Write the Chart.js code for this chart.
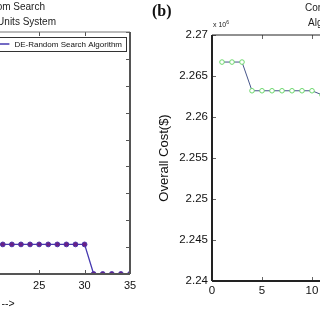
<!DOCTYPE html>
<html><head><meta charset="utf-8">
<script src="https://cdn.jsdelivr.net/npm/chart.js@4/dist/chart.umd.min.js"></script>
<style>
html,body{margin:0;padding:0;background:#fff;}
#wrap{position:relative;width:320px;height:320px;overflow:hidden;background:#fff;font-family:"Liberation Sans",Arial,sans-serif;}
canvas{position:absolute;top:0;}
#cA{left:-260px;}
#cB{left:150px;}
.t{position:absolute;white-space:nowrap;color:#222;font-size:10px;line-height:12px;}
.tr{text-align:right;}
#pb{position:absolute;left:152px;top:2px;font:bold 16px/18px "Liberation Serif","Times New Roman",serif;color:#111;}
#sc{position:absolute;left:213px;top:21px;font-size:7px;line-height:8px;color:#222;white-space:nowrap;}
#sc sup{font-size:5px;vertical-align:3px;line-height:0;}
</style></head><body>
<div id="wrap">
<canvas id="cA" width="410" height="320"></canvas>
<canvas id="cB" width="432" height="320"></canvas>
<div class="t tr" style="right:275px;top:1px">Convergence of DE-Random Search</div>
<div class="t tr" style="right:264px;top:16px">Algorithm for 40 Units System</div>
<div class="t" style="left:305px;top:2px">Convergence of DE-Random Search</div>
<div class="t" style="left:308px;top:17px">Algorithm for 40 Units System</div>
<div id="pb">(b)</div>
<div id="sc">x 10<sup>6</sup></div>
</div>
<script>
// ---- data: panel (a) ----
const iterA = [1,2,3,4,5,6,7,8,9,10,11,12,13,14,15,16,17,18,19,20,21,22,23,24,25,26,27,28,29,30,31,32,33,34,35];
const costA = [1.1,1.1,1.1,1.1,1.1,1.1,1.1,1.1,1.1,1.1,1.1,1.1,1.1,1.1,1.1,1.1,1.1,1.1,1.1,1.1,1.1,1.1,1.1,1.1,1.1,1.1,1.1,1.1,1.1,1.1,0,0,0,0,0];
const xTicksA = [0,5,10,15,20,25,30,35];
const seriesA = 'DE-Random Search Algorithm';
// ---- data: panel (b) ----
const iterB = [1,2,3,4,5,6,7,8,9,10,11];
const costB = [2.2667,2.2667,2.2667,2.2632,2.2632,2.2632,2.2632,2.2632,2.2632,2.2632,2.2627];
const xTicksB = [0,5,10,15,20,25,30,35];
const yTicksB = [2.24,2.245,2.25,2.255,2.26,2.265,2.27];

Chart.defaults.font.family = '"Liberation Sans", Arial, sans-serif';
Chart.defaults.color = '#111';

const frameTicks = {
  id: 'frameTicks',
  afterDatasetsDraw(chart, args, o) {
    const {ctx, chartArea: a, scales: {x, y}} = chart;
    ctx.save();
    ctx.strokeStyle = o.tickColor; ctx.lineWidth = 1;
    const L = 4;
    const seg = (x1,y1,x2,y2)=>{ctx.beginPath();ctx.moveTo(x1,y1);ctx.lineTo(x2,y2);ctx.stroke();};
    x.ticks.forEach(t => { const p = Math.round(x.getPixelForValue(t.value)) + 0.5;
      seg(p, a.bottom, p, a.bottom - L); seg(p, a.top, p, a.top + L); });
    y.ticks.forEach(t => { const p = Math.round(y.getPixelForValue(t.value)) + 0.5;
      seg(a.left, p, a.left + L, p); seg(a.right, p, a.right - L, p); });
    o.sides.forEach(s => {
      ctx.strokeStyle = s.color; ctx.lineWidth = s.w;
      if (s.side === 'top') seg(a.left, a.top, a.right, a.top);
      if (s.side === 'bottom') seg(a.left, a.bottom, a.right, a.bottom);
      if (s.side === 'left') seg(a.left, a.top, a.left, a.bottom);
      if (s.side === 'right') seg(a.right, a.top, a.right, a.bottom);
    });
    ctx.restore();
  }
};

const legendBox = {
  id: 'legendBox',
  afterDraw(chart, args, o) {
    if (!o.show) return;
    const {ctx, chartArea: a} = chart; const ds = chart.data.datasets[0];
    ctx.save();
    ctx.font = o.font;
    const tw = ctx.measureText(ds.label).width;
    const right = a.right - 4, top = a.top + 5, h = 14;
    const tx = right - 4 - tw, lx2 = tx - 5, lx1 = lx2 - 26, left = lx1 - 5;
    const cy = top + h / 2;
    ctx.fillStyle = '#fff'; ctx.fillRect(left, top, right - left, h);
    ctx.strokeStyle = '#333'; ctx.lineWidth = 1; ctx.strokeRect(left + 0.5, top + 0.5, right - left, h);
    ctx.strokeStyle = ds.borderColor; ctx.lineWidth = 1.5;
    ctx.beginPath(); ctx.moveTo(lx1, cy); ctx.lineTo(lx2, cy); ctx.stroke();
    ctx.fillStyle = ds.pointBackgroundColor;
    ctx.beginPath(); ctx.arc((lx1 + lx2) / 2, cy, 2.5, 0, Math.PI * 2); ctx.fill();
    ctx.fillStyle = '#111'; ctx.textBaseline = 'middle'; ctx.textAlign = 'left';
    ctx.fillText(ds.label, tx, cy + 0.5);
    ctx.restore();
  }
};

new Chart(document.getElementById('cA'), {
  type: 'line',
  data: { datasets: [{
    label: seriesA,
    data: iterA.map((v, i) => ({x: v, y: costA[i]})),
    borderColor: '#4539b0', borderWidth: 1.3,
    pointRadius: 2.4, pointBackgroundColor: '#6a1f86', pointBorderColor: '#4a34a8', pointBorderWidth: 1,
    tension: 0
  }]},
  plugins: [frameTicks, legendBox],
  options: {
    responsive: false, animation: false, devicePixelRatio: 1,
    layout: { padding: { top: 32, right: 20, left: 0, bottom: 0 } },
    plugins: {
      legend: { display: false }, tooltip: { enabled: false },
      frameTicks: { tickColor: '#555', sides: [
        {side:'top', color:'#777', w:1}, {side:'left', color:'#555', w:2},
        {side:'right', color:'#555', w:2}, {side:'bottom', color:'#555', w:2}] },
      legendBox: { show: true, font: '8px "Liberation Sans", Arial, sans-serif' }
    },
    scales: {
      x: { type: 'linear', min: 0, max: 35,
        afterBuildTicks: s => { s.ticks = xTicksA.map(v => ({value: v})); },
        afterFit: s => { s.height = 46; },
        grid: { display: false, drawTicks: false }, border: { display: false },
        ticks: { padding: 5, font: { size: 11 }, color: '#111', maxRotation: 0 },
        title: { display: true, text: 'No of Iterations -->', font: { size: 10.5 }, color: '#111', padding: { top: 0, bottom: 10 } } },
      y: { type: 'linear', min: 0, max: 9,
        ticks: { display: false, stepSize: 1 },
        afterFit: s => { s.width = 72; },
        grid: { display: false, drawTicks: false }, border: { display: false } }
    }
  }
});

new Chart(document.getElementById('cB'), {
  type: 'line',
  data: { datasets: [{
    label: 'Overall Cost',
    data: iterB.map((v, i) => ({x: v, y: costB[i]})),
    borderColor: '#46558a', borderWidth: 1,
    pointRadius: 2.3, pointBackgroundColor: '#fff', pointBorderColor: '#6cd86c', pointBorderWidth: 1,
    tension: 0
  }]},
  plugins: [frameTicks],
  options: {
    responsive: false, animation: false, devicePixelRatio: 1,
    layout: { padding: { top: 35, right: 20, left: 0, bottom: 0 } },
    plugins: {
      legend: { display: false }, tooltip: { enabled: false },
      frameTicks: { tickColor: '#666', sides: [
        {side:'top', color:'#222', w:1}, {side:'left', color:'#222', w:2},
        {side:'bottom', color:'#222', w:2}, {side:'right', color:'#222', w:1}] }
    },
    scales: {
      x: { type: 'linear', min: 0, max: 35,
        afterBuildTicks: s => { s.ticks = xTicksB.map(v => ({value: v})); },
        afterFit: s => { s.height = 39; },
        grid: { display: false, drawTicks: false }, border: { display: false },
        ticks: { padding: 3, font: { size: 11.5 }, color: '#111', maxRotation: 0 } },
      y: { type: 'linear', min: 2.24, max: 2.27,
        afterBuildTicks: s => { s.ticks = yTicksB.map(v => ({value: v})); },
        afterFit: s => { s.width = 62; },
        grid: { display: false, drawTicks: false }, border: { display: false },
        ticks: { padding: 4, font: { size: 11.5 }, color: '#111',
          callback: v => String(parseFloat(Number(v).toFixed(4))) },
        title: { display: true, text: 'Overall Cost($)', font: { size: 13 }, color: '#111', padding: { top: 7, bottom: 0 } } }
    }
  }
});
</script>
</body></html>
